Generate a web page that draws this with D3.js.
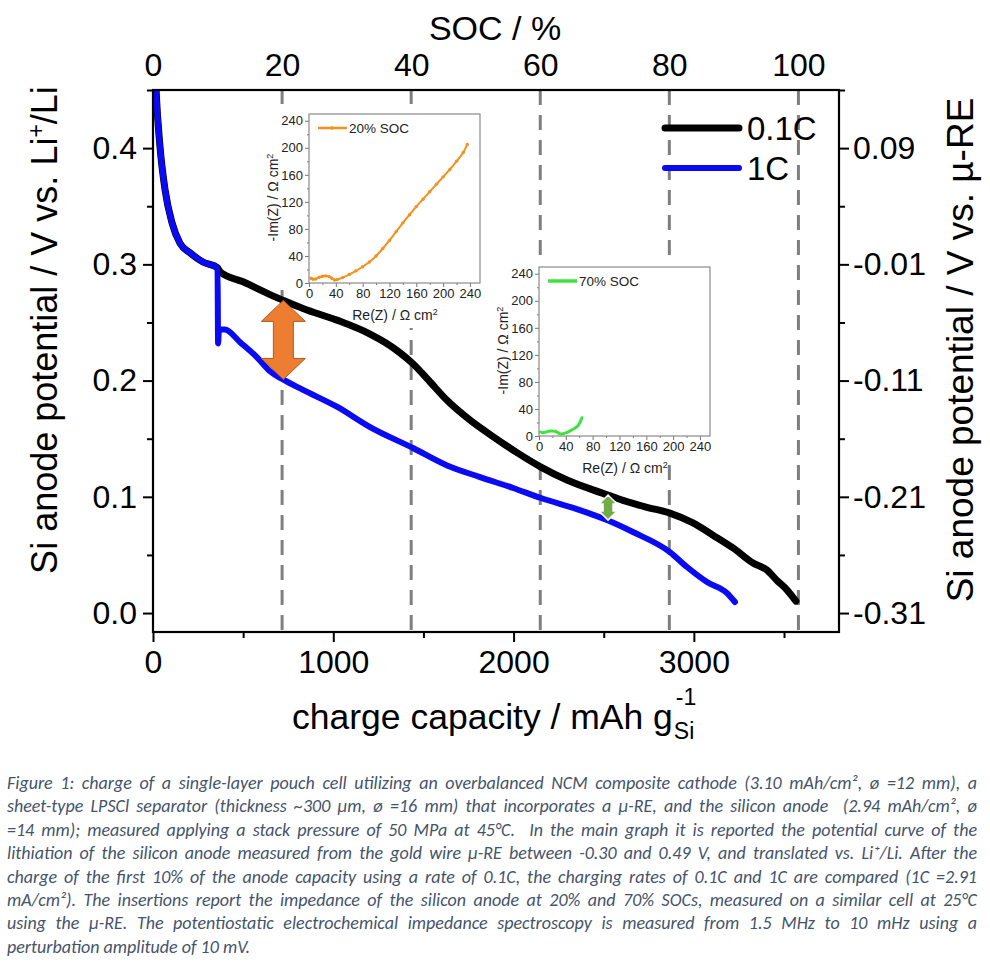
<!DOCTYPE html>
<html>
<head>
<meta charset="utf-8">
<script src="https://cdn.jsdelivr.net/npm/d3@7"></script>
<style>
  body { margin: 0; background: #fff; }
  svg text { font-family: "Liberation Sans", Arial, sans-serif; }
  svg text.cap { font-family: Carlito, Lato, "Open Sans", sans-serif; font-style: italic; }
</style>
</head>
<body>
<div id="chart"></div>
<script>
// main graph: charge capacity (mAh/g) vs Si potential (V vs Li+/Li)
var cap01 = [5, 17, 39, 67, 105, 150, 205, 277, 358, 372, 500, 649, 723, 832, 1020, 1204, 1290, 1365, 1442, 1536, 1631, 1758, 1908, 2019, 2152, 2296, 2440, 2524, 2607, 2740, 2867, 2995, 3106, 3217, 3328, 3405, 3461, 3516, 3566];
var volt01 = [0.50, 0.450, 0.401, 0.364, 0.336, 0.318, 0.310, 0.302, 0.297, 0.2935, 0.285, 0.274, 0.269, 0.262, 0.252, 0.240, 0.2325, 0.2245, 0.2145, 0.199, 0.183, 0.166, 0.1495, 0.138, 0.1256, 0.1145, 0.106, 0.1015, 0.097, 0.091, 0.086, 0.0775, 0.067, 0.056, 0.043, 0.037, 0.028, 0.020, 0.0103];
var cap1 = [5, 17, 39, 67, 105, 150, 205, 277, 358, 361, 366, 399, 483, 577, 649, 721, 832, 1020, 1204, 1442, 1631, 1814, 1997, 2152, 2368, 2518, 2662, 2867, 2962, 3073, 3184, 3228];
var volt1 = [0.50, 0.450, 0.401, 0.364, 0.336, 0.318, 0.310, 0.302, 0.297, 0.232, 0.244, 0.244, 0.233, 0.220, 0.208, 0.201, 0.192, 0.1775, 0.160, 0.142, 0.127, 0.117, 0.1076, 0.099, 0.0886, 0.080, 0.0697, 0.0525, 0.0396, 0.0267, 0.0172, 0.0095];
var seriesNames = ["0.1C", "1C"];

var capTicks = [0, 1000, 2000, 3000];
var capMinor = [500, 1500, 2500, 3500];
var voltTicks = [0, 0.1, 0.2, 0.3, 0.4];
var voltMinor = [0.05, 0.15, 0.25, 0.35, 0.45];
var socTicks = [0, 20, 40, 60, 80, 100];
var socLines = [20, 40, 60, 80, 100];
var fullCapacity = 3580;   // mAh/g at 100 % SOC
var reShift = 0.31;        // Li+/Li -> gold wire u-RE

// gaps marked by the arrows (capacity, upper V, lower V)
var gapCap = [723, 2524];
var gapTop = [0.269, 0.1015];
var gapBot = [0.201, 0.080];

// impedance insets
var re20 = [3, 6, 10, 15, 20, 25, 30, 34, 38, 42, 50, 60, 70, 80, 90, 100, 110, 120, 130, 140, 150, 160, 170, 180, 190, 200, 210, 220, 230, 236];
var im20 = [7, 5.5, 6, 8.5, 10, 10.5, 9.5, 7, 4.5, 5, 8, 12.5, 18, 24, 31, 40, 51, 63, 76, 89, 101, 113, 124, 135, 146, 157, 168, 180, 193, 205];
var re70 = [2, 5, 9, 14, 19, 24, 28, 32, 36, 42, 48, 54, 58, 61, 64];
var im70 = [6, 5, 5.5, 7, 7.5, 7, 5, 3, 3.5, 5.5, 8.5, 12, 15, 20, 27];
var zTicks = [0, 40, 80, 120, 160, 200, 240];
var zMinor = [20, 60, 100, 140, 180, 220];

var caption = [
  "Figure 1: charge of a single-layer pouch cell utilizing an overbalanced NCM composite cathode (3.10 mAh/cm\u00b2, \u00f8 =12 mm), a",
  "sheet-type LPSCl separator (thickness ~300 \u00b5m, \u00f8 =16 mm) that incorporates a \u00b5-RE, and the silicon anode  (2.94 mAh/cm\u00b2, \u00f8",
  "=14 mm); measured applying a stack pressure of 50 MPa at 45\u00b0C.  In the main graph it is reported the potential curve of the",
  "lithiation of the silicon anode measured from the gold wire \u00b5-RE between -0.30 and 0.49 V, and translated vs. Li\u207a/Li. After the",
  "charge of the first 10% of the anode capacity using a rate of 0.1C, the charging rates of 0.1C and 1C are compared (1C =2.91",
  "mA/cm\u00b2). The insertions report the impedance of the silicon anode at 20% and 70% SOCs, measured on a similar cell at 25\u00b0C",
  "using the \u00b5-RE. The potentiostatic electrochemical impedance spectroscopy is measured from 1.5 MHz to 10 mHz using a",
  "perturbation amplitude of 10 mV."
];

var W = 990, H = 968;
var m = {left: 153, right: 839, top: 90, bottom: 632};

var svg = d3.select("#chart").append("svg").attr("width", W).attr("height", H);
svg.append("rect").attr("width", W).attr("height", H).attr("fill", "#fff");

var x = d3.scaleLinear().domain([0, 3805]).range([m.left, m.right]);
var y = d3.scaleLinear().domain([-0.0163, 0.45]).range([m.bottom, m.top]);
var xs = d3.scaleLinear().domain([0, 3805 / fullCapacity * 100]).range([m.left, m.right]);
var yRE = d3.scaleLinear().domain(y.domain().map(function(v) { return v - reShift; })).range(y.range());

svg.append("clipPath").attr("id", "plotclip").append("rect")
  .attr("x", m.left).attr("y", m.top).attr("width", m.right - m.left).attr("height", m.bottom - m.top);

// dashed SOC guides
svg.append("g").selectAll("line").data(socLines).join("line")
  .attr("x1", function(d) { return xs(d); }).attr("x2", function(d) { return xs(d); })
  .attr("y1", m.top).attr("y2", m.bottom)
  .attr("stroke", "#7f7f7f").attr("stroke-width", 3).attr("stroke-dasharray", "15,10");

// insets
function drawInset(o) {
  var g = svg.append("g");
  o.bg.forEach(function(r) {
    g.append("rect").attr("x", r[0]).attr("y", r[1]).attr("width", r[2]).attr("height", r[3]).attr("fill", "#fff");
  });
  var iw = 171, ih = 169;
  var ix = d3.scaleLinear().domain([0, 255]).range([o.left, o.left + iw]);
  var iy = d3.scaleLinear().domain([0, 250]).range([o.top + ih, o.top]);

  var bx = g.append("g").attr("transform", "translate(0," + (o.top + ih) + ")")
    .call(d3.axisBottom(ix).tickValues(zTicks).tickSize(4).tickPadding(2));
  var bxm = g.append("g").attr("transform", "translate(0," + (o.top + ih) + ")")
    .call(d3.axisBottom(ix).tickValues(zMinor).tickSize(2).tickFormat(""));
  var ly = g.append("g").attr("transform", "translate(" + o.left + ",0)")
    .call(d3.axisLeft(iy).tickValues(zTicks).tickSize(4).tickPadding(2));
  var lym = g.append("g").attr("transform", "translate(" + o.left + ",0)")
    .call(d3.axisLeft(iy).tickValues(zMinor).tickSize(2).tickFormat(""));
  [bx, bxm, ly, lym].forEach(function(a) {
    a.select(".domain").remove();
    a.selectAll("line").attr("stroke", "#777");
    a.selectAll("text").style("font-size", "13px").attr("fill", "#222");
  });
  g.append("rect").attr("x", o.left).attr("y", o.top).attr("width", iw).attr("height", ih)
    .attr("fill", "none").attr("stroke", "#8a8a8a").attr("stroke-width", 1.2);

  var line = d3.line().x(function(d) { return ix(d[0]); }).y(function(d) { return iy(d[1]); })
    .curve(d3.curveCatmullRom);
  var pts = o.re.map(function(r, i) { return [r, o.im[i]]; });
  g.append("path").attr("d", line(pts)).attr("fill", "none")
    .attr("stroke", o.color).attr("stroke-width", o.width).attr("stroke-linecap", "round");
  if (o.dots) {
    g.selectAll(".dot").data(pts).join("circle").attr("class", "dot")
      .attr("cx", function(d) { return ix(d[0]); }).attr("cy", function(d) { return iy(d[1]); })
      .attr("r", 1.7).attr("fill", o.color);
  }
  // legend
  g.append("line").attr("x1", o.left + 9).attr("x2", o.left + 38)
    .attr("y1", o.top + 14).attr("y2", o.top + 14)
    .attr("stroke", o.color).attr("stroke-width", o.width + 0.5);
  if (o.dots) g.append("circle").attr("cx", o.left + 23).attr("cy", o.top + 14).attr("r", 1.8).attr("fill", o.color);
  g.append("text").attr("x", o.left + 40).attr("y", o.top + 19).style("font-size", "13.5px")
    .attr("fill", "#222").text(o.label);

  // axis titles
  var yt = g.append("text").attr("text-anchor", "middle").style("font-size", "14px").attr("fill", "#222")
    .attr("transform", "translate(" + (o.left - 31) + "," + (o.top + ih / 2 - 1) + ") rotate(-90)");
  yt.append("tspan").text("-Im(Z) / \u03a9 cm");
  yt.append("tspan").attr("baseline-shift", "super").style("font-size", "9px").text("2");
  var xt = g.append("text").attr("text-anchor", "middle").style("font-size", "14px").attr("fill", "#222")
    .attr("x", o.left + 86).attr("y", o.top + ih + 37);
  xt.append("tspan").text("Re(Z) / \u03a9 cm");
  xt.append("tspan").attr("baseline-shift", "super").style("font-size", "9px").text("2");
}

drawInset({left: 309, top: 114, re: re20, im: im20, color: "#f5901e", width: 2, dots: true,
  label: "20% SOC", bg: [[252, 104, 240, 176], [300, 280, 192, 48]]});
drawInset({left: 539, top: 267, re: re70, im: im70, color: "#3fe23f", width: 3, dots: false,
  label: "70% SOC", bg: [[486, 258, 236, 198]]});

// main curves
var mainLine = d3.line().x(function(d) { return x(d[0]); }).y(function(d) { return y(d[1]); })
  .curve(d3.curveMonotoneX);
var curves = svg.append("g").attr("clip-path", "url(#plotclip)");
curves.append("path").attr("d", mainLine(cap01.map(function(c, i) { return [c, volt01[i]]; })))
  .attr("fill", "none").attr("stroke", "#000").attr("stroke-width", 7)
  .attr("stroke-linecap", "round").attr("stroke-linejoin", "round");
curves.append("path").attr("d", mainLine(cap1.map(function(c, i) { return [c, volt1[i]]; })))
  .attr("fill", "none").attr("stroke", "#0a0af5").attr("stroke-width", 6)
  .attr("stroke-linecap", "round").attr("stroke-linejoin", "round");

// double arrows
function arrowPath(cx, y0, y1, headW, headL, shaftW) {
  var hw = headW / 2, sw = shaftW / 2;
  return "M" + cx + "," + y0 +
    "L" + (cx + hw) + "," + (y0 + headL) + "L" + (cx + sw) + "," + (y0 + headL) +
    "L" + (cx + sw) + "," + (y1 - headL) + "L" + (cx + hw) + "," + (y1 - headL) +
    "L" + cx + "," + y1 +
    "L" + (cx - hw) + "," + (y1 - headL) + "L" + (cx - sw) + "," + (y1 - headL) +
    "L" + (cx - sw) + "," + (y0 + headL) + "L" + (cx - hw) + "," + (y0 + headL) + "Z";
}
svg.append("path").attr("d", arrowPath(x(gapCap[0]), y(gapTop[0]), y(gapBot[0]), 44, 21, 20))
  .attr("fill", "#ed7d31").attr("stroke", "#ae5a21").attr("stroke-width", 1);
svg.append("path").attr("d", arrowPath(x(gapCap[1]), y(gapTop[1]), y(gapBot[1]), 18, 9, 10))
  .attr("fill", "#70ad47").attr("stroke", "#fff").attr("stroke-width", 1.5);

// axes
function styleAxis(a, fs) {
  a.select(".domain").remove();
  a.selectAll("line").attr("stroke", "#000").attr("stroke-width", 2);
  a.selectAll("text").style("font-size", fs).attr("fill", "#000");
}
styleAxis(svg.append("g").attr("transform", "translate(0," + m.bottom + ")")
  .call(d3.axisBottom(x).tickValues(capTicks).tickSize(10).tickPadding(8).tickFormat(d3.format("d"))), "32px");
styleAxis(svg.append("g").attr("transform", "translate(0," + m.bottom + ")")
  .call(d3.axisBottom(x).tickValues(capMinor).tickSize(6).tickFormat("")), "32px");
styleAxis(svg.append("g").attr("transform", "translate(" + m.left + ",0)")
  .call(d3.axisLeft(y).tickValues(voltTicks).tickSize(10).tickPadding(6)
    .tickFormat(function(d) { return d.toFixed(1); })), "32px");
styleAxis(svg.append("g").attr("transform", "translate(" + m.left + ",0)")
  .call(d3.axisLeft(y).tickValues(voltMinor).tickSize(6).tickFormat("")), "32px");
styleAxis(svg.append("g").attr("transform", "translate(" + m.right + ",0)")
  .call(d3.axisRight(yRE).tickValues(voltTicks.map(function(v) { return v - reShift; })).tickSize(10).tickPadding(4)
    .tickFormat(function(d) { return d.toFixed(2); })), "32px");
styleAxis(svg.append("g").attr("transform", "translate(" + m.right + ",0)")
  .call(d3.axisRight(yRE).tickValues(voltMinor.map(function(v) { return v - reShift; })).tickSize(6).tickFormat("")), "32px");
styleAxis(svg.append("g").attr("transform", "translate(0," + m.top + ")")
  .call(d3.axisTop(xs).tickValues(socTicks).tickSize(0).tickPadding(14)), "32px");

svg.append("rect").attr("x", m.left).attr("y", m.top).attr("width", m.right - m.left).attr("height", m.bottom - m.top)
  .attr("fill", "none").attr("stroke", "#000").attr("stroke-width", 2.2);

// titles
svg.append("text").attr("x", 495).attr("y", 40).attr("text-anchor", "middle").style("font-size", "34px").text("SOC / %");

var xt = svg.append("text").attr("x", 292).attr("y", 729).style("font-size", "35.5px").text("charge capacity / mAh g");
var xtEnd = 292 + xt.node().getComputedTextLength() + 1;
svg.append("text").attr("x", xtEnd + 2).attr("y", 705).style("font-size", "23px").text("-1");
svg.append("text").attr("x", xtEnd).attr("y", 739).style("font-size", "23px").text("Si");

var yl = svg.append("text").attr("text-anchor", "middle").style("font-size", "36px")
  .attr("transform", "translate(57,330) rotate(-90)");
yl.append("tspan").text("Si anode potential / V vs. Li");
yl.append("tspan").attr("baseline-shift", "super").style("font-size", "23px").text("+");
yl.append("tspan").text("/Li");

svg.append("text").attr("text-anchor", "middle").style("font-size", "37px")
  .attr("transform", "translate(973,350) rotate(-90)").text("Si anode potential / V vs. \u00b5-RE");

// legend
var legColors = ["#000", "#0a0af5"];
var leg = svg.append("g").selectAll("g").data(seriesNames).join("g")
  .attr("transform", function(d, i) { return "translate(0," + (128 + i * 40) + ")"; });
leg.append("line").attr("x1", 665).attr("x2", 739).attr("y1", 0).attr("y2", 0)
  .attr("stroke", function(d, i) { return legColors[i]; }).attr("stroke-width", function(d, i) { return i ? 6 : 7; })
  .attr("stroke-linecap", "round");
leg.append("text").attr("x", 747).attr("y", 12).style("font-size", "33px").text(function(d) { return d; });

// caption, each line justified between x=7 and x=977
var capG = svg.append("g").attr("fill", "#44546a");
var capFs = 18, capW = 970;
var capT = capG.selectAll("text").data(caption).join("text").attr("class", "cap")
  .attr("x", 7).attr("y", function(d, i) { return 789 + i * 23.4; })
  .style("font-size", capFs + "px").style("white-space", "pre").text(function(d) { return d; });
var widest = d3.max(capT.nodes(), function(n) { return n.getComputedTextLength(); });
if (widest > capW - 10) {
  capFs = capFs * (capW - 10) / widest;
  capT.style("font-size", capFs + "px");
}
capT.each(function(d, i) {
  if (i === caption.length - 1) return;
  var w = this.getComputedTextLength();
  var gaps = d.split(" ").length - 1;
  d3.select(this).style("word-spacing", ((capW - w) / gaps) + "px");
});
</script>
</body>
</html>
